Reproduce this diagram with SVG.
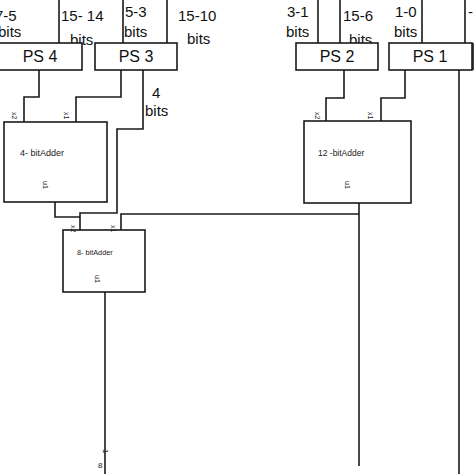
<svg xmlns="http://www.w3.org/2000/svg" width="474" height="474" viewBox="0 0 474 474">
<style>
.w{fill:none;stroke:#1a1a1a;stroke-width:1.6}
.box{fill:#fff;stroke:#1a1a1a;stroke-width:1.6}
.lbl{font-family:"Liberation Sans",Arial,sans-serif;font-size:15px;fill:#111}
.ps{font-family:"Liberation Sans",Arial,sans-serif;font-size:16px;fill:#111;text-anchor:middle}
.sm{font-family:"Liberation Sans",Arial,sans-serif;fill:#222}
.pin{font-family:"Liberation Sans",Arial,sans-serif;font-size:7px;fill:#222}
</style>
<g id="connectors">
<path class="w" d="M59 0V43M123 0V43M167 0V43M318 0V43M340 0V43M422 0V43M465 0V43"/>
<path class="w" d="M39 70V97H24V122"/>
<path class="w" d="M121 70V97H76V122"/>
<path class="w" d="M143 70V129H117V213H80V230"/>
<path class="w" d="M55 202V217H80"/>
<path class="w" d="M344 70V98H326V121"/>
<path class="w" d="M405 70V98H381V121"/>
<path class="w" d="M459 70V474"/>
<path class="w" d="M359 203V466"/>
<path class="w" d="M359 214H121V230"/>
<path class="w" d="M105 292V474"/>
</g>
<g id="labels">
<text class="lbl" x="-5" y="21">7-5</text>
<text class="lbl" x="-2" y="37">bits</text>
<text class="lbl" x="61" y="21">15- 14</text>
<text class="lbl" x="70" y="45">bits</text>
<text class="lbl" x="125" y="17">5-3</text>
<text class="lbl" x="124" y="37">bits</text>
<text class="lbl" x="178" y="21">15-10</text>
<text class="lbl" x="187" y="44">bits</text>
<text class="lbl" x="152" y="98">4</text>
<text class="lbl" x="145" y="116">bits</text>
<text class="lbl" x="287" y="17">3-1</text>
<text class="lbl" x="286" y="37">bits</text>
<text class="lbl" x="343" y="21">15-6</text>
<text class="lbl" x="349" y="45">bits</text>
<text class="lbl" x="395" y="17">1-0</text>
<text class="lbl" x="394" y="37">bits</text>
<text class="lbl" x="468" y="17">-</text>
</g>
<g id="ps4"><rect class="box" x="-2" y="43" width="84" height="27"/><text class="ps" x="40" y="62">PS 4</text></g>
<g id="ps3"><rect class="box" x="95" y="43" width="82" height="27"/><text class="ps" x="136" y="62">PS 3</text></g>
<g id="ps2"><rect class="box" x="296" y="43" width="82" height="27"/><text class="ps" x="337" y="62">PS 2</text></g>
<g id="ps1"><rect class="box" x="389" y="43" width="83" height="27"/><text class="ps" x="430" y="62">PS 1</text><path class="w" d="M473 43V70" stroke-width="2"/></g>
<g id="adder4">
<rect class="box" x="4" y="122" width="103" height="80"/>
<text class="sm" x="20" y="156" font-size="9">4- bitAdder</text>
<text class="pin" transform="translate(12,112) rotate(90)">x2</text>
<text class="pin" transform="translate(64,112) rotate(90)">x1</text>
<text class="pin" transform="translate(43,181) rotate(90)">u1</text>
</g>
<g id="adder12">
<rect class="box" x="304" y="121" width="107" height="82"/>
<text class="sm" x="318" y="156" font-size="8.5">12 -bitAdder</text>
<text class="pin" transform="translate(315,112) rotate(90)">x2</text>
<text class="pin" transform="translate(368,112) rotate(90)">x1</text>
<text class="pin" transform="translate(345,181) rotate(90)">u1</text>
</g>
<g id="adder8">
<rect class="box" x="63" y="230" width="82" height="62"/>
<text class="sm" x="77" y="255" font-size="7.3">8- bitAdder</text>
<text class="pin" transform="translate(71,225) rotate(90)">x2</text>
<text class="pin" transform="translate(111,225) rotate(90)">x1</text>
<text class="pin" transform="translate(95,275) rotate(90)">u1</text>
</g>
<g id="bottom">
<text class="pin" transform="translate(103,449) rotate(90)" style="font-size:8px">1</text>
<text class="pin" transform="translate(98,468)" style="font-size:8px">8</text>
</g>
</svg>
